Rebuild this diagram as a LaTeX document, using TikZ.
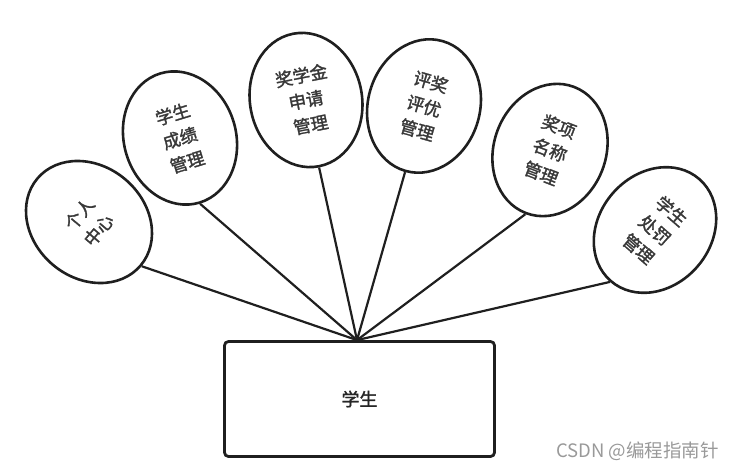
\documentclass[tikz,border=0pt]{standalone}
\usepackage{fontspec}
\newfontfamily\cjk[FakeBold=1.6]{Noto Sans CJK SC}
\newfontfamily\cjkfino{Noto Sans CJK SC}
\usetikzlibrary{shapes.geometric}
\tikzset{
    elipse_modulo/.style={ellipse, draw=black!88, line width=2.6pt, fill=white, minimum width=112pt, minimum height=135pt, inner sep=0pt, align=center, text=black!78, font=\cjk\fontsize{17.5}{25}\selectfont},
    caja_principal/.style={rectangle, rounded corners=4pt, draw=black!88, line width=2.8pt, fill=white, minimum width=270pt, minimum height=115pt, text=black!85, font=\cjk\fontsize{18}{20}\selectfont},
    marca_agua/.style={text=black!40, font=\cjkfino\fontsize{18.5}{20}\selectfont, inner sep=0pt},
    linea/.style={draw=black!88, line width=2.2pt}
}

\begin{document}
\begin{tikzpicture}[x=1pt, y=-1pt]
    \useasboundingbox (0,0) rectangle (734,471);

    % 1. Nodo inferior
    \node[caja_principal] (estu) at (359.5,399) {学生};

    % 2. Modulos en abanico (de izquierda a derecha)
    \node[elipse_modulo, rotate=50] (pc) at (89,222) {个人\\中心};
    \node[elipse_modulo, rotate=17] (cj) at (180,138) {学生\\成绩\\管理};
    \node[elipse_modulo, rotate=11] (jxj) at (306,100) {奖学金\\申请\\管理};
    \node[elipse_modulo, rotate=-16] (pj) at (424,106) {评奖\\评优\\管理};
    \node[elipse_modulo, rotate=-21] (jx) at (550,150) {奖项\\名称\\管理};
    \node[elipse_modulo, rotate=-41] (cf) at (655,230) {学生\\处罚\\管理};

    % Marca de agua
    \node[marca_agua, anchor=east] (marca) at (719,451) {CSDN @编程指南针};

    % --- CONEXIONES ---
    % Todas las lineas salen del mismo punto sobre la caja
    \coordinate (centro) at ([xshift=-2.5pt]estu.north);
    \foreach \m in {pc, cj, jxj, pj, jx, cf}
        \draw[linea] (\m.south) -- (centro);
\end{tikzpicture}
\end{document}
